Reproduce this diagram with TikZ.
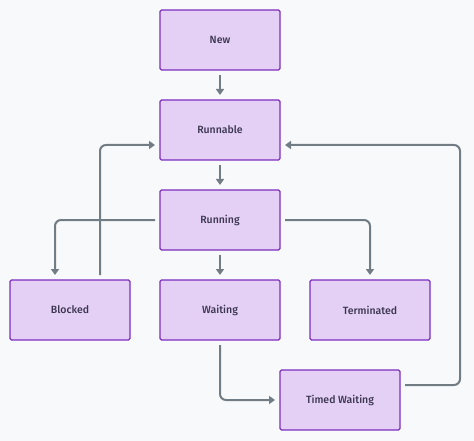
\documentclass[tikz,border=0pt]{standalone}
\usepackage{fontspec}
\setmainfont{Fira Sans}[UprightFont=* Medium]
\usetikzlibrary{arrows.meta}
\definecolor{boxfill}{HTML}{E5D0F5}
\definecolor{boxline}{HTML}{7D2DBF}
\definecolor{wire}{HTML}{717C85}
\definecolor{txt}{HTML}{3A3550}
\definecolor{bg}{HTML}{F8F9FA}
\begin{document}
\begin{tikzpicture}[x=1pt,y=-1pt,
        state/.style={rectangle,draw=boxline,fill=boxfill,line width=1.1pt,
            rounded corners=1.5pt,minimum width=120pt,minimum height=60pt,
            inner sep=0pt,outer sep=5pt,text=txt,font=\fontsize{10.5}{12}\selectfont},
        wire/.style={draw=wire,line width=2pt,rounded corners=6pt,
            -{Triangle[length=6pt,width=8pt]}}]
\fill[bg] (0,0) rectangle (474,441);
\useasboundingbox (0,0) rectangle (474,441);

\node[state] (new) at (220,40) {New};
\node[state] (runnable) at (220,130) {Runnable};
\node[state] (running) at (220,220) {Running};
\node[state] (blocked) at (70,310) {Blocked};
\node[state] (waiting) at (220,310) {Waiting};
\node[state] (terminated) at (370,310) {Terminated};
\node[state] (timed) at (340,400) {Timed Waiting};

\draw[wire] (new) -- (runnable);
\draw[wire] (runnable) -- (running);
\draw[wire] (running) -- (waiting);
\draw[wire] (running.west) -| (blocked.north -| 55,0);
\draw[wire] (running.east) -| (terminated.north);
\draw[wire] (blocked.north -| 100,0) |- (runnable.west |- 0,145);
\draw[wire] (waiting.south) |- (timed.west);
\draw[wire] (timed.east |- 0,385) -- (460,385) |- (runnable.east |- 0,145);
\end{tikzpicture}
\end{document}
